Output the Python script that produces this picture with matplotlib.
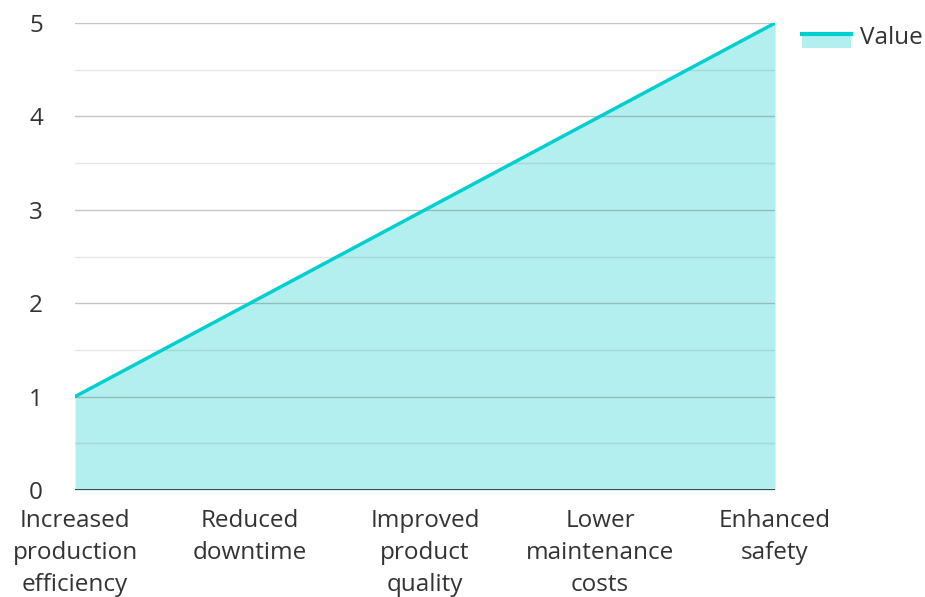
import matplotlib.pyplot as plt
from matplotlib.lines import Line2D
from matplotlib.patches import Patch, Rectangle
from matplotlib.legend_handler import HandlerBase

# ---- data --------------------------------------------------------------------
categories = [
    "Increased\nproduction\nefficiency",
    "Reduced\ndowntime",
    "Improved\nproduct\nquality",
    "Lower\nmaintenance\ncosts",
    "Enhanced\nsafety",
]
values = [1, 2, 3, 4, 5]
series_name = "Value"

LINE = "#00cfcf"
FILL = "#b2efee"
TEXT = "#333333"

plt.rcParams["font.family"] = ["Open Sans", "DejaVu Sans"]


class LineOverFill(HandlerBase):
    """Legend key: thick line sitting on top of a filled band."""

    def create_artists(self, legend, orig_handle, xdescent, ydescent,
                       width, height, fontsize, trans):
        top = height * 0.6
        rect = Rectangle((-xdescent, -ydescent - height * 0.2), width,
                         top + height * 0.2, facecolor=FILL, edgecolor="none",
                         transform=trans)
        ln = Line2D([-xdescent, -xdescent + width], [top, top],
                    color=LINE, lw=3, transform=trans)
        return [rect, ln]


fig = plt.figure(figsize=(9.25, 5.97), dpi=100)
ax = fig.add_axes([0.0811, 0.1792, 0.7568, 0.7822])

x = list(range(len(categories)))
ax.fill_between(x, 0, values, color=FILL, lw=0, zorder=1)
ax.plot(x, values, color=LINE, lw=2.5, zorder=3, solid_capstyle="round")

# grid: integer lines darker, half-steps lighter
for yv in [0.5, 1.5, 2.5, 3.5, 4.5]:
    ax.axhline(yv, color="#5a5a5a", alpha=0.15, lw=1, zorder=2)
for yv in [1, 2, 3, 4, 5]:
    ax.axhline(yv, color="#5a5a5a", alpha=0.35, lw=1, zorder=2)
ax.axhline(0, color="#333333", lw=2, zorder=4)

ax.set_xlim(0, 4)
ax.set_ylim(0, 5)
ax.set_yticks([0, 1, 2, 3, 4, 5])
ax.set_xticks(x)
ax.set_xticklabels(categories, linespacing=1.42)
ax.tick_params(axis="both", length=0, labelsize=17.5, colors=TEXT)
ax.tick_params(axis="y", pad=28)
ax.tick_params(axis="x", pad=14)
for lbl in ax.get_yticklabels():
    lbl.set_horizontalalignment("center")
for s in ax.spines.values():
    s.set_visible(False)

fig.legend(handles=[Patch(label=series_name)], handler_map={Patch: LineOverFill()},
           loc="upper left", bbox_to_anchor=(0.867, 0.956), frameon=False,
           fontsize=17.5, labelcolor=TEXT, handlelength=2.0, handletextpad=0.4,
           borderpad=0, borderaxespad=0)

fig.savefig("out.png", dpi=100)
